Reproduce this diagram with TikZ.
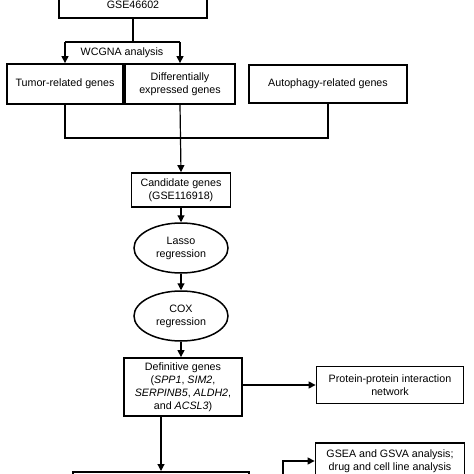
\documentclass[tikz,border=0pt]{standalone}
\usepackage{fontspec}
\setmainfont{Liberation Sans}
\usetikzlibrary{arrows.meta,shapes.geometric}

\tikzset{
  box/.style={rectangle, draw, line width=1.8pt, inner sep=0pt, align=center},
  oval/.style={ellipse, draw, line width=1.5pt, inner sep=0pt, align=center, minimum width=94pt, minimum height=50pt},
  link/.style={line width=1.2pt},
  arr/.style={line width=1.2pt, -{Triangle[length=7pt,width=7pt]}}
}

\begin{document}
\begin{tikzpicture}[x=1pt, y=-1pt, font=\fontsize{10.7}{13}\selectfont]
\useasboundingbox (0,0) rectangle (474,474);
\clip (0,0) rectangle (474,474);

\node [box, minimum width=148pt, minimum height=26pt] (gse) at (133,5) {GSE46602};

\node [box, minimum width=116pt, minimum height=40pt] (tumor) at (65,84) {Tumor-related genes};
\node [box, minimum width=110pt, minimum height=40pt] (diff) at (180,84) {Differentially\\expressed genes};
\node [box, minimum width=158pt, minimum height=38pt] (auto) at (328,84) {Autophagy-related genes};

\node [box, minimum width=99pt, minimum height=34pt] (cand) at (181,190) {Candidate genes\\(GSE116918)};
\node [oval] (lasso) at (181,248) {Lasso\\regression};
\node [oval] (cox) at (181,316) {COX\\regression};

\node [box, minimum width=118pt, minimum height=58pt] (defin) at (183,387) {Definitive genes\\(\textit{SPP1}, \textit{SIM2},\\\textit{SERPINB5}, \textit{ALDH2},\\and \textit{ACSL3})};
\node [box, minimum width=147pt, minimum height=37pt] (ppi) at (390,385) {Protein-protein interaction\\network};
\node [box, minimum width=149pt, minimum height=36pt] (gsea) at (390,461) {GSEA and GSVA analysis;\\drug and cell line analysis};
\node [box, minimum width=176pt, minimum height=30pt, anchor=north] (bottom) at (161,471) {};

\node (wgcna) at (122,53) {WCGNA analysis};

\coordinate (split) at (133,42);
\coordinate (join) at (181,138);
\coordinate (gin) at (283,480);

% top split
\draw [link] (gse.south) -- (split);
\draw [link] (tumor.north |- split) -- (diff.north |- split);
\draw [arr] (tumor.north |- split) -- (tumor.north);
\draw [arr] (diff.north |- split) -- (diff.north);

% merge of the three gene sets
\draw [link] (tumor.south) |- (auto.south |- join) -- (auto.south);
\draw [arr] (diff.south) -- (cand.north);

\draw [arr] (cand) -- (lasso);
\draw [arr] (lasso) -- (cox);
\draw [arr] (cox) -- (defin.north -| cox);

\draw [arr] (defin.east |- ppi.west) -- (ppi.west);
\draw [arr] (defin.south -| bottom.north) -- (bottom.north);
\draw [arr] (gin) |- (gsea.west);
\end{tikzpicture}
\end{document}
